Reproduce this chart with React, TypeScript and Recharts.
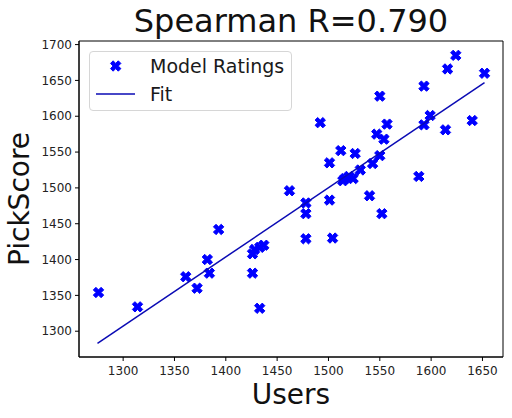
import React from "react";
import {
  ScatterChart,
  Scatter,
  XAxis,
  YAxis,
  Legend,
  ReferenceArea,
} from "recharts";

// scores: users rating (x) vs PickScore rating (y)
const users = [
  1276, 1314, 1361, 1372, 1382, 1384, 1393, 1426, 1433, 1426, 1428, 1433,
  1437, 1462, 1478, 1478, 1478, 1501, 1504, 1492, 1501, 1512, 1526, 1514,
  1516, 1520, 1524, 1531, 1540, 1543, 1550, 1547, 1554, 1557, 1550, 1552,
  1588, 1593, 1599, 1593, 1614, 1616, 1624, 1640, 1652,
];
const pickScore = [
  1354, 1334, 1376, 1360, 1400, 1381, 1442, 1381, 1332, 1408, 1414, 1417,
  1420, 1496, 1479, 1464, 1429, 1483, 1430, 1591, 1535, 1552, 1548, 1510,
  1513, 1516, 1513, 1525, 1489, 1534, 1545, 1575, 1568, 1589, 1628, 1464,
  1516, 1588, 1601, 1642, 1581, 1666, 1685, 1594, 1660,
];

// end points of the fitted line
const fitX = [1275, 1652];
const fitY = [1283, 1647];

const xTicks = [1300, 1350, 1400, 1450, 1500, 1550, 1600, 1650];
const yTicks = [1300, 1350, 1400, 1450, 1500, 1550, 1600, 1650, 1700];

const seriesNames = ["Model Ratings", "Fit"];

const points = users.map((x, i) => ({ x, y: pickScore[i] }));
const fit = fitX.map((x, i) => ({ x, y: fitY[i] }));

const FONT = "'DejaVu Sans', sans-serif";
const MARKER = "#0000ff";
const LINE = "#0a0ab4";

// matplotlib's filled "X" marker
const PLUS = [
  [-1, -3], [1, -3], [1, -1], [3, -1], [3, 1], [1, 1],
  [1, 3], [-1, 3], [-1, 1], [-3, 1], [-3, -1], [-1, -1],
];
const xPath = (cx: number, cy: number, s: number) =>
  PLUS.map(([a, b], i) => {
    const u = (a * s) / 6;
    const v = (b * s) / 6;
    const px = cx + (u - v) * Math.SQRT1_2;
    const py = cy + (u + v) * Math.SQRT1_2;
    return `${i ? "L" : "M"}${px.toFixed(2)},${py.toFixed(2)}`;
  }).join("") + "Z";

const XMarker = (props: any) => {
  const { cx, cy } = props;
  if (cx == null || cy == null) return null;
  return <path d={xPath(cx, cy, 11)} fill={MARKER} stroke={MARKER} strokeWidth={1} />;
};

const renderLegend = (props: any) => {
  const payload = [...(props.payload || [])].sort(
    (a: any, b: any) => seriesNames.indexOf(a.value) - seriesNames.indexOf(b.value)
  );
  return (
    <div
      style={{
        width: 203,
        height: 60,
        boxSizing: "border-box",
        border: "1px solid #d6d6d6",
        borderRadius: 4,
        background: "rgba(255,255,255,0.8)",
        fontSize: 19,
        color: "#1a1a1a",
        fontFamily: FONT,
      }}
    >
      {payload.map((entry: any) => (
        <div
          key={entry.value}
          style={{ display: "flex", alignItems: "center", height: 28 }}
        >
          <svg width={52} height={28} style={{ flex: "none" }}>
            {entry.type === "line" ? (
              <line x1={6} x2={45} y1={14} y2={14} stroke={LINE} strokeWidth={1.5} />
            ) : (
              <path d={xPath(25.7, 14, 11)} fill={MARKER} stroke={MARKER} strokeWidth={1} />
            )}
          </svg>
          <span style={{ marginLeft: 8, lineHeight: "28px" }}>{entry.value}</span>
        </div>
      ))}
    </div>
  );
};

export default function App() {
  return (
    <div
      style={{
        position: "absolute",
        left: 0,
        top: 0,
        width: 512,
        height: 418,
        background: "#fff",
        fontFamily: FONT,
      }}
    >
      <ScatterChart
        width={512}
        height={418}
        margin={{ top: 41, right: 9, bottom: 0, left: 0 }}
      >
        <text
          x={291}
          y={32}
          textAnchor="middle"
          fontSize={32}
          fill="#111"
          fontFamily={FONT}
        >
          Spearman R=0.790
        </text>
        <XAxis
          type="number"
          dataKey="x"
          domain={[1257, 1670]}
          ticks={xTicks}
          allowDataOverflow
          height={61}
          tickSize={4}
          tickMargin={5}
          stroke="#000"
          tick={{ fontSize: 12, fill: "#222" }}
          label={{
            value: "Users",
            position: "insideBottom",
            offset: 14,
            fontSize: 28,
            fill: "#111",
          }}
        />
        <YAxis
          type="number"
          dataKey="y"
          domain={[1264, 1705]}
          ticks={yTicks}
          allowDataOverflow
          width={79}
          tickSize={4}
          tickMargin={3}
          stroke="#000"
          tick={{ fontSize: 12, fill: "#222" }}
          label={{
            value: "PickScore",
            angle: -90,
            position: "insideLeft",
            offset: 19,
            fontSize: 28,
            fill: "#111",
            style: { textAnchor: "middle" },
          }}
        />
        <ReferenceArea
          x1={1257}
          x2={1670}
          y1={1264}
          y2={1705}
          fill="none"
          stroke="#000"
          strokeWidth={1}
          ifOverflow="visible"
        />
        <Scatter
          name="Model Ratings"
          data={points}
          fill={MARKER}
          shape={XMarker}
          legendType="cross"
          isAnimationActive={false}
        />
        <Scatter
          name="Fit"
          data={fit}
          fill={LINE}
          line={{ stroke: LINE, strokeWidth: 1.5 }}
          shape={() => <g />}
          legendType="line"
          isAnimationActive={false}
        />
        <Legend
          layout="horizontal"
          verticalAlign="middle"
          align="center"
          content={renderLegend}
          wrapperStyle={{ left: 89, top: 51, width: 203, height: 60 }}
        />
      </ScatterChart>
    </div>
  );
}
